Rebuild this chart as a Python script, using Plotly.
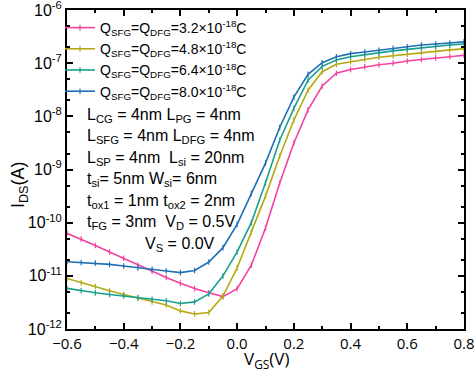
import plotly.graph_objects as go

vgs = [-0.6, -0.55, -0.5, -0.45, -0.4, -0.35, -0.3, -0.25, -0.2, -0.15, -0.1, -0.05,
       0.0, 0.05, 0.1, 0.15, 0.2, 0.25, 0.3, 0.35, 0.4, 0.45, 0.5, 0.55, 0.6, 0.65,
       0.7, 0.75, 0.8]

ids_q32 = [6.31e-11, 4.90e-11, 3.72e-11, 2.82e-11, 2.14e-11, 1.58e-11, 1.23e-11, 9.33e-12,
           7.24e-12, 5.75e-12, 4.79e-12, 4.07e-12, 5.75e-12, 1.58e-11, 7.94e-11, 5.50e-10,
           3.16e-9, 1.32e-8, 3.72e-8, 6.46e-8, 7.59e-8, 8.51e-8, 9.33e-8, 1.00e-7, 1.10e-7,
           1.17e-7, 1.26e-7, 1.32e-7, 1.41e-7]
ids_q48 = [8.91e-12, 7.41e-12, 6.31e-12, 5.25e-12, 4.47e-12, 3.80e-12, 3.24e-12, 2.82e-12,
           2.19e-12, 1.91e-12, 2.04e-12, 4.17e-12, 1.41e-11, 6.76e-11, 3.16e-10, 1.78e-9,
           8.51e-9, 3.09e-8, 6.92e-8, 9.55e-8, 1.07e-7, 1.17e-7, 1.29e-7, 1.38e-7, 1.48e-7,
           1.58e-7, 1.66e-7, 1.78e-7, 1.86e-7]
ids_q64 = [5.82e-12, 5.25e-12, 4.79e-12, 4.47e-12, 4.17e-12, 3.89e-12, 3.63e-12, 3.39e-12,
           3.02e-12, 3.24e-12, 4.57e-12, 1.00e-11, 2.82e-11, 1.00e-10, 5.62e-10, 3.55e-9,
           1.41e-8, 4.79e-8, 8.71e-8, 1.15e-7, 1.32e-7, 1.45e-7, 1.55e-7, 1.70e-7, 1.82e-7,
           1.95e-7, 2.09e-7, 2.19e-7, 2.29e-7]
ids_q80 = [1.84e-11, 1.78e-11, 1.74e-11, 1.64e-11, 1.53e-11, 1.41e-11, 1.32e-11, 1.23e-11,
           1.15e-11, 1.26e-11, 1.82e-11, 3.39e-11, 9.30e-11, 3.55e-10, 1.32e-9, 6.17e-9,
           2.29e-8, 6.17e-8, 1.02e-7, 1.32e-7, 1.51e-7, 1.62e-7, 1.74e-7, 1.91e-7, 2.04e-7,
           2.19e-7, 2.29e-7, 2.40e-7, 2.51e-7]

series_names = [
    "Q<sub>SFG</sub>=Q<sub>DFG</sub>=3.2×10<sup>-18</sup>C",
    "Q<sub>SFG</sub>=Q<sub>DFG</sub>=4.8×10<sup>-18</sup>C",
    "Q<sub>SFG</sub>=Q<sub>DFG</sub>=6.4×10<sup>-18</sup>C",
    "Q<sub>SFG</sub>=Q<sub>DFG</sub>=8.0×10<sup>-18</sup>C",
]
series_values = [ids_q32, ids_q48, ids_q64, ids_q80]
colors = ["#F4429E", "#B5A912", "#17A08E", "#1F6FB5"]

y_tickvals = [1e-12, 1e-11, 1e-10, 1e-9, 1e-8, 1e-7, 1e-6]
y_ticktext = ["10<sup>-12</sup>", "10<sup>-11</sup>", "10<sup>-10</sup>", "10<sup>-9</sup>",
              "10<sup>-8</sup>", "10<sup>-7</sup>", "10<sup>-6</sup>"]

param_lines = [
    "L<sub>CG</sub> = 4nm L<sub>PG</sub> = 4nm",
    "L<sub>SFG</sub> = 4nm L<sub>DFG</sub> = 4nm",
    "L<sub>SP</sub> = 4nm  L<sub>si</sub> = 20nm",
    "t<sub>si</sub>= 5nm W<sub>si</sub>= 6nm",
    "t<sub>ox1</sub> = 1nm t<sub>ox2</sub> = 2nm",
    "t<sub>FG</sub> = 3nm  V<sub>D</sub> = 0.5V",
]
last_line = "V<sub>S</sub> = 0.0V"
x_title = "V<sub>GS</sub>(V)"
y_title = "I<sub>DS</sub>(A)"

fig = go.Figure()
for name, vals, col in zip(series_names, series_values, colors):
    fig.add_trace(go.Scatter(
        x=vgs, y=vals, name=name, mode="lines+markers",
        line=dict(color=col, width=1.6),
        marker=dict(symbol="line-ns-open", size=4, line=dict(color=col, width=1.2)),
    ))

FONT = "Liberation Sans, Arial, sans-serif"
L, R, T, B = 67, 10, 10, 63
W, H = 474, 392
pw, ph = W - L - R, H - T - B


def px(xp):
    return (xp - L) / pw


def py(yp):
    return (H - yp - B) / ph


annotations = []
y0 = 115
for i, t in enumerate(param_lines):
    annotations.append(dict(
        x=px(85), y=py(y0 + i * 21.5), xref="paper", yref="paper", text=t,
        showarrow=False, xanchor="left", yanchor="middle",
        font=dict(size=16, color="black", family=FONT)))
annotations.append(dict(
    x=px(217), y=py(y0 + 6 * 21.5), xref="paper", yref="paper", text=last_line,
    showarrow=False, xanchor="right", yanchor="middle",
    font=dict(size=16, color="black", family=FONT)))
annotations.append(dict(
    x=px(266), y=py(359), xref="paper", yref="paper", text=x_title,
    showarrow=False, xanchor="center", yanchor="middle",
    font=dict(size=17, color="black", family="Open Sans, sans-serif")))
annotations.append(dict(
    x=px(19), y=py(185), xref="paper", yref="paper", text=y_title, textangle=-90,
    showarrow=False, xanchor="center", yanchor="middle",
    font=dict(size=18, color="black", family=FONT)))

fig.update_layout(
    width=W, height=H,
    margin=dict(l=L, r=R, t=T, b=B, autoexpand=False),
    paper_bgcolor="white", plot_bgcolor="white",
    font=dict(family=FONT, color="black", size=15),
    showlegend=True,
    legend=dict(x=px(60), y=py(12), xanchor="left", yanchor="top",
                bgcolor="rgba(0,0,0,0)", font=dict(size=14, family=FONT),
                tracegroupgap=0, itemwidth=30),
    annotations=annotations,
    xaxis=dict(
        range=[-0.6, 0.8], dtick=0.2, tick0=-0.6, tickformat=".1f",
        showline=True, linecolor="black", linewidth=2, mirror="allticks",
        ticks="inside", ticklen=6, tickwidth=1.5, tickcolor="black",
        showgrid=False, zeroline=False, automargin=False, ticklabeloverflow="allow",
        minor=dict(dtick=0.1, ticks="inside", ticklen=3, tickcolor="black", showgrid=False),
        tickfont=dict(size=15, family="Open Sans, sans-serif"),
    ),
    yaxis=dict(
        type="log", range=[-12, -6], tickvals=y_tickvals, ticktext=y_ticktext,
        showline=True, linecolor="black", linewidth=2, mirror="allticks",
        ticks="inside", ticklen=6, tickwidth=1.5, tickcolor="black",
        showgrid=False, zeroline=False, automargin=False, ticklabeloverflow="allow",
        minor=dict(ticks="inside", ticklen=3, tickcolor="black", showgrid=False),
        tickfont=dict(size=16, family=FONT),
    ),
)

fig.write_html("out.html", config={"displayModeBar": False},
               post_script="document.body.style.margin='0';document.body.style.overflow='hidden';")
